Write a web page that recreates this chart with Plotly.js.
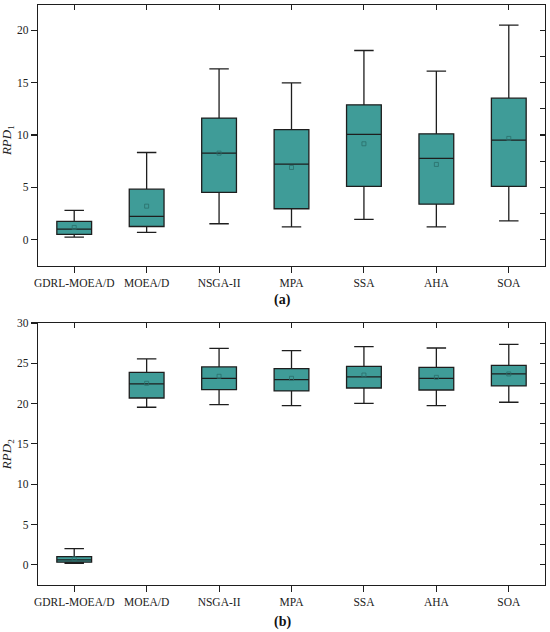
<!DOCTYPE html>
<html><head><meta charset="utf-8">
<script src="https://cdn.plot.ly/plotly-3.0.1.min.js"></script>
<style>html,body{margin:0;padding:0;background:#fff}#c{width:550px;height:632px}</style>
</head><body><div id="c"></div>
<script>
const categories = ["GDRL-MOEA/D","MOEA/D","NSGA-II","MPA","SSA","AHA","SOA"];
// Panel (a) RPD1
const a_lower  = [0.25, 0.70, 1.53, 1.24, 1.94, 1.24, 1.81];
const a_q1     = [0.51, 1.27, 4.52, 2.96, 5.09, 3.40, 5.09];
const a_median = [1.02, 2.23, 8.27, 7.22, 10.05, 7.76, 9.51];
const a_q3     = [1.75, 4.83, 11.61, 10.52, 12.88, 10.11, 13.51];
const a_upper  = [2.80, 8.33, 16.31, 14.98, 18.06, 16.09, 20.48];
const a_mean   = [1.18, 3.21, 8.27, 6.90, 9.16, 7.19, 9.67];
// Panel (b) RPD2
const b_lower  = [0.17, 19.55, 19.88, 19.75, 20.04, 19.75, 20.17];
const b_q1     = [0.33, 20.70, 21.74, 21.57, 21.94, 21.69, 22.19];
const b_median = [0.62, 22.44, 23.14, 22.98, 23.31, 23.14, 23.68];
const b_q3     = [1.03, 23.88, 24.55, 24.34, 24.63, 24.50, 24.75];
const b_upper  = [2.02, 25.54, 26.86, 26.57, 27.07, 26.90, 27.36];
const b_mean   = [0.74, 22.52, 23.39, 23.14, 23.55, 23.26, 23.68];
const yTitles = ["<i>RPD</i><sub>1</sub>", "<i>RPD</i><sub>2</sub>"];
const panelLabels = ["<b>(a)</b>", "<b>(b)</b>"];

const FILL = "#3f9c98", LINE = "#1e1e1e", MEANC = "#2b6e6b";
const FONT = "Liberation Serif, Times New Roman, serif";
const idx = categories.map((_, i) => i);

function boxTrace(lo, q1, med, q3, up, xa, ya) {
  return {type: "box", x: categories, lowerfence: lo, q1: q1, median: med, q3: q3, upperfence: up,
    xaxis: xa, yaxis: ya, fillcolor: FILL, line: {color: LINE, width: 1.3},
    width: 0.48, whiskerwidth: 0.56, boxpoints: false, showlegend: false, hoverinfo: "skip"};
}
function meanTrace(m, xa, ya) {
  return {type: "scatter", mode: "markers", x: categories, y: m, xaxis: xa, yaxis: ya,
    marker: {symbol: "square-open", size: 4, color: MEANC, line: {width: 0.8, color: MEANC}},
    showlegend: false, hoverinfo: "skip"};
}
function dummy(xa, ya, yv) {
  return {type: "scatter", mode: "none", x: [0], y: [yv], xaxis: xa, yaxis: ya, showlegend: false, hoverinfo: "skip"};
}

const data = [
  boxTrace(a_lower, a_q1, a_median, a_q3, a_upper, "x", "y"),
  meanTrace(a_mean, "x", "y"),
  boxTrace(b_lower, b_q1, b_median, b_q3, b_upper, "x2", "y2"),
  meanTrace(b_mean, "x2", "y2"),
  dummy("x3", "y3", 0),
  dummy("x4", "y4", 0)
];

const tickf = {family: FONT, size: 11.5, color: "#222"};
function mainX(anchor) {
  return {type: "category", range: [-0.5, 6.5], anchor: anchor, showline: true, mirror: true,
    linecolor: LINE, linewidth: 1.2, ticks: "outside", ticklen: 6, tickwidth: 1.1, tickcolor: LINE,
    tickfont: tickf, showgrid: false, zeroline: false, fixedrange: true};
}
function mainY(anchor, domain, range) {
  return {domain: domain, range: range, anchor: anchor, showline: true, mirror: true,
    linecolor: LINE, linewidth: 1.2, ticks: "outside", ticklen: 6, tickwidth: 1.1, tickcolor: LINE,
    dtick: 5, tick0: 0, tickfont: tickf, showgrid: false, zeroline: false, fixedrange: true};
}
function overX(over, anchor) {
  return {overlaying: over, anchor: anchor, side: "top", range: [-0.5, 6.5], tickvals: idx,
    ticks: "inside", ticklen: 5, tickwidth: 1.1, tickcolor: LINE, showticklabels: false,
    showgrid: false, zeroline: false, showline: false, fixedrange: true};
}
function overY(over, anchor, range) {
  return {overlaying: over, anchor: anchor, side: "right", range: range, dtick: 2.5, tick0: 0,
    ticks: "inside", ticklen: 5, tickwidth: 1.1, tickcolor: LINE, showticklabels: false,
    showgrid: false, zeroline: false, showline: false, fixedrange: true};
}

const annFont = {family: FONT, size: 13, color: "#222"};
const layout = {
  width: 550, height: 632,
  margin: {l: 38, r: 5, t: 5, b: 47},
  paper_bgcolor: "#fff", plot_bgcolor: "#fff",
  font: {family: FONT, color: "#222"},
  xaxis: mainX("y"),
  yaxis: mainY("x", [0.55, 1], [-2.5, 22.4]),
  xaxis2: mainX("y2"),
  yaxis2: mainY("x2", [0, 0.4517], [-2.5, 30]),
  xaxis3: overX("x", "y3"),
  yaxis3: overY("y", "x3", [-2.5, 22.4]),
  xaxis4: overX("x2", "y4"),
  yaxis4: overY("y2", "x4", [-2.5, 30]),
  annotations: [
    {text: yTitles[0], xref: "paper", yref: "paper", x: -0.061, y: 0.7655, textangle: -90,
     showarrow: false, xanchor: "center", yanchor: "middle", font: annFont},
    {text: yTitles[1], xref: "paper", yref: "paper", x: -0.061, y: 0.224, textangle: -90,
     showarrow: false, xanchor: "center", yanchor: "middle", font: annFont},
    {text: panelLabels[0], xref: "paper", yref: "paper", x: 0.483, y: 0.4914, showarrow: false,
     xanchor: "center", yanchor: "middle", font: {family: FONT, size: 14, color: "#111"}},
    {text: panelLabels[1], xref: "paper", yref: "paper", x: 0.483, y: -0.0638, showarrow: false,
     xanchor: "center", yanchor: "middle", font: {family: FONT, size: 14, color: "#111"}}
  ]
};
layout.yaxis3.domain = [0.55, 1];
layout.yaxis4.domain = [0, 0.4517];

Plotly.newPlot("c", data, layout, {staticPlot: true, displayModeBar: false});
</script></body></html>
